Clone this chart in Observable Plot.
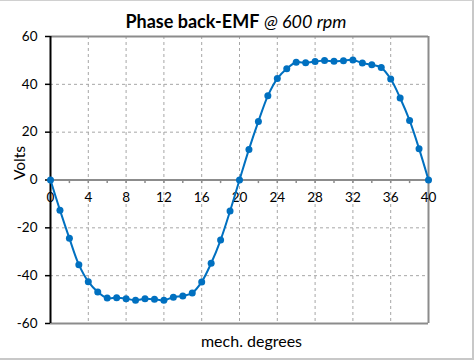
<!DOCTYPE html>
<html>
<head>
<meta charset="utf-8">
<script src="https://cdn.jsdelivr.net/npm/d3@7"></script>
<script src="https://cdn.jsdelivr.net/npm/@observablehq/plot@0.6"></script>
<style>
  html, body { margin: 0; padding: 0; background: #fff; }
  #chart { position: relative; width: 474px; height: 360px; box-sizing: border-box;
           border-top: 1px solid #d0d0d0; border-right: 2px solid #c8c8c8; border-bottom: 2px solid #c8c8c8;
           font-family: Lato, "Liberation Sans", sans-serif; overflow: hidden; }
  #title { position: absolute; left: 0; top: 10px; width: 472px; text-align: center;
           font-size: 18px; color: #000; line-height: 20px; }
  #title b { font-weight: 700; }
  #title i { font-style: italic; font-weight: 400; }
  svg { display: block; }
</style>
</head>
<body>
<div id="chart">
  <div id="title"><b>Phase back-EMF</b> <i>@ 600 rpm</i></div>
</div>
<script>
const degrees = [0,1,2,3,4,5,6,7,8,9,10,11,12,13,14,15,16,17,18,19,20,21,22,23,24,25,26,27,28,29,30,31,32,33,34,35,36,37,38,39,40];
const volts = [0,-12.6,-24.4,-35.4,-42.5,-46.8,-49.3,-49.2,-49.6,-50.3,-49.7,-49.9,-50.3,-49.0,-48.5,-47.2,-42.6,-34.8,-25.1,-13.0,
               0,12.8,24.5,35.2,42.4,46.5,49.2,49.0,49.5,50.0,49.6,49.9,50.2,48.9,48.2,47.0,42.2,34.3,24.9,13.1,0];
const xTickLabels = [0,4,8,12,16,20,24,28,32,36,40];
const xMinorTicks = [0,2,4,6,8,10,12,14,16,18,20,22,24,26,28,30,32,34,36,38,40];
const yTicks = [-60,-40,-20,0,20,40,60];
const xGrid = [4,8,12,16,20,24,28,32,36];
const yGrid = [-40,-20,20,40];
const xLabel = "mech. degrees";
const yLabel = "Volts";

const data = degrees.map((d, i) => ({deg: d, v: volts[i]}));
const blue = "#0070C0";
const grid = "#a6a6a6";
const frameGray = "#8c8c8c";

const plot = Plot.plot({
  width: 472,
  height: 357,
  marginTop: 35,
  marginLeft: 50,
  marginRight: 44,
  marginBottom: 35,
  style: {fontFamily: "Lato, 'Liberation Sans', sans-serif", fontSize: "13px", color: "#000", background: "transparent"},
  x: {domain: [0, 40], axis: null},
  y: {domain: [-60, 60], axis: null},
  marks: [
    Plot.ruleX(xGrid, {stroke: grid, strokeDasharray: "3,3", strokeWidth: 1}),
    Plot.ruleY(yGrid, {stroke: grid, strokeDasharray: "3,3", strokeWidth: 1}),
    Plot.ruleY([60, -60], {stroke: frameGray, strokeWidth: 2}),
    Plot.ruleX([40], {stroke: frameGray, strokeWidth: 2}),
    Plot.ruleY([0], {stroke: frameGray, strokeWidth: 2}),
    Plot.ruleX(xMinorTicks, {x: d => d, y1: 0, y2: -1.5, stroke: frameGray, strokeWidth: 1.5}),
    Plot.text(xTickLabels, {x: d => d, y: 0, dy: 18, text: d => String(d), fill: "#000", fontSize: 13.5}),
    Plot.axisY(yTicks, {anchor: "left", tickSize: 5, tickPadding: 8, tickFormat: d => String(d), label: null, stroke: "#000", strokeWidth: 1.5, fontSize: 13.5}),
    Plot.ruleX([0], {stroke: "#000", strokeWidth: 2}),
    Plot.text([yLabel], {frameAnchor: "left", rotate: -90, dx: -30, text: d => d, fontSize: 15.5, fill: "#000"}),
    Plot.text([xLabel], {frameAnchor: "bottom", dy: 23, dx: 12, text: d => d, fontSize: 16, fill: "#000"}),
    Plot.line(data, {x: "deg", y: "v", stroke: blue, strokeWidth: 2, curve: "catmull-rom"}),
    Plot.dot(data, {x: "deg", y: "v", r: 3.5, fill: blue, stroke: "none"})
  ]
});
document.getElementById("chart").appendChild(plot);
</script>
</body>
</html>
